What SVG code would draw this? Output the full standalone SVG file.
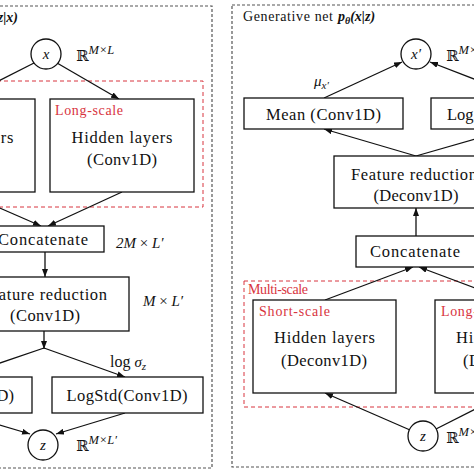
<svg xmlns="http://www.w3.org/2000/svg" width="474" height="474" viewBox="0 0 474 474">
<defs>
<marker id="ah" markerUnits="userSpaceOnUse" markerWidth="8" markerHeight="6" refX="8" refY="3" orient="auto">
<path d="M0,0 L8,3 L0,6 z" fill="#111"/>
</marker>
<style>
.panel{fill:none;stroke:#555;stroke-width:1.2;stroke-dasharray:3 2}
.ms{fill:none;stroke:#d8343e;stroke-width:1;stroke-dasharray:4 3}
.box{fill:#fff;stroke:#111;stroke-width:1.3}
.t{font-family:"Liberation Serif",serif;font-size:16.5px;fill:#111}
.c{text-anchor:middle}
.red{font-family:"Liberation Serif",serif;font-size:14px;fill:#d8343e}
.m{font-family:"Liberation Serif",serif;font-style:italic;font-size:15px;fill:#111}
.up{font-style:normal}
.bb{font-family:"DejaVu Serif",serif;font-size:15px;fill:#111}
.sup{font-family:"Liberation Serif",serif;font-style:italic;font-size:12.5px}
.ttl{font-family:"Liberation Serif",serif;font-size:14px;fill:#111}
.bi{font-family:"Liberation Serif",serif;font-style:italic;font-weight:bold}
#conn line{stroke:#111;stroke-width:1.3;marker-end:url(#ah)}
</style>
</defs>
<rect width="474" height="474" fill="#fff"/>

<!-- panels -->
<rect class="panel" x="-10" y="6" width="222" height="462"/>
<rect class="panel" x="232" y="5" width="260" height="462"/>
<text class="ttl bi" x="18" y="22" text-anchor="end">q<tspan font-size="10" dy="3">φ</tspan><tspan dy="-3">(z|x)</tspan></text>
<text class="ttl" x="243" y="21"><tspan textLength="90">Generative net</tspan><tspan class="bi" x="338">p</tspan><tspan class="bi" font-size="10" dy="3">θ</tspan><tspan class="bi" dy="-3">(x|z)</tspan></text>

<!-- multi-scale regions -->
<rect class="ms" x="-10" y="81" width="213" height="126"/>
<g id="ms-right">
<rect class="ms" x="244" y="281" width="240" height="126"/>
<text class="red" x="248" y="294" font-size="12.5" textLength="60">Multi-scale</text>
</g>

<!-- connectors -->
<g id="conn">
<line x1="34" y1="63" x2="-37" y2="99"/>
<line x1="57" y1="63" x2="119" y2="99"/>
<line x1="-37" y1="192" x2="41" y2="226"/>
<line x1="122" y1="192" x2="48" y2="226"/>
<line x1="45" y1="252" x2="45" y2="277"/>
<line x1="44" y1="331" x2="44" y2="349"/>
<line x1="44" y1="348" x2="125" y2="377"/>
<line x1="44" y1="348" x2="-41" y2="377"/>
<line x1="125" y1="413" x2="56" y2="434"/>
<line x1="-41" y1="413" x2="30" y2="434"/>

<line x1="410" y1="430" x2="325" y2="393"/>
<line x1="436" y1="429" x2="507" y2="393"/>
<line x1="325" y1="300" x2="413" y2="267"/>
<line x1="507" y1="300" x2="419" y2="267"/>
<line x1="416" y1="236" x2="416" y2="208"/>
<line x1="416" y1="156" x2="324" y2="129"/>
<line x1="416" y1="156" x2="510" y2="129"/>
<line x1="324" y1="98" x2="402" y2="62"/>
<line x1="523" y1="98" x2="430" y2="62"/>
</g>

<!-- left (inference) nodes -->
<g id="x-in">
<circle class="box" cx="46" cy="54" r="15"/>
<text class="m c" x="46" y="59" font-size="18">x</text>
<text class="bb" x="76" y="61">ℝ<tspan class="sup" dy="-7">M×L</tspan></text>
</g>
<g id="enc-short">
<rect class="box" x="-109" y="99" width="144" height="93"/>
<text class="t c" x="-37" y="143" textLength="101">Hidden layers</text>
</g>
<g id="enc-long">
<rect class="box" x="50" y="99" width="144" height="93"/>
<text class="red" x="55" y="115" textLength="68">Long-scale</text>
<text class="t c" x="122" y="143" textLength="101">Hidden layers</text>
<text class="t c" x="122" y="165" textLength="70">(Conv1D)</text>
</g>
<g id="enc-concat">
<rect class="box" x="-14" y="226" width="118" height="26"/>
<text class="t c" x="43" y="245" textLength="90">Concatenate</text>
<text class="m" x="116" y="248">2M <tspan class="up">×</tspan> L′</text>
</g>
<g id="enc-reduce">
<rect class="box" x="-41" y="277" width="170" height="54"/>
<text class="t c" x="44" y="300" textLength="126">Feature reduction</text>
<text class="t c" x="45" y="321" textLength="70">(Conv1D)</text>
<text class="m" x="143" y="306">M <tspan class="up">×</tspan> L′</text>
</g>
<g id="enc-mean">
<rect class="box" x="-115" y="377" width="147" height="36"/>
<text class="t" x="14" y="401" text-anchor="end">Mean (Conv1D)</text>
</g>
<g id="enc-logstd">
<rect class="box" x="52" y="377" width="151" height="36"/>
<text class="t c" x="127" y="401" textLength="121">LogStd(Conv1D)</text>
<text class="m" x="110" y="367"><tspan class="up" font-size="16">log </tspan>σ<tspan font-size="11" dy="3">z</tspan></text>
</g>
<g id="z-out">
<circle class="box" cx="43" cy="445" r="15"/>
<text class="m c" x="43" y="450" font-size="17">z</text>
<text class="bb" x="76" y="451">ℝ<tspan class="sup" dy="-7">M×L′</tspan></text>
</g>

<!-- right (generative) nodes -->
<g id="x-out">
<circle class="box" cx="416" cy="54" r="15"/>
<text class="m c" x="416" y="59" font-size="18">x′</text>
<text class="bb" x="446" y="61">ℝ<tspan class="sup" dy="-7">M×L</tspan></text>
</g>
<g id="dec-mean">
<rect class="box" x="244" y="98" width="159" height="31"/>
<text class="t c" x="323.5" y="120" textLength="115">Mean (Conv1D)</text>
<text class="m" x="314" y="86" font-size="16">μ<tspan font-size="11" dy="3">x′</tspan></text>
</g>
<g id="dec-logstd">
<rect class="box" x="431" y="98" width="159" height="31"/>
<text class="t" x="447" y="120">LogStd(Conv1D)</text>
</g>
<g id="dec-reduce">
<rect class="box" x="334" y="156" width="164" height="52"/>
<text class="t c" x="414" y="180" textLength="126">Feature reduction</text>
<text class="t c" x="416" y="201" textLength="85">(Deconv1D)</text>
</g>
<g id="dec-concat">
<rect class="box" x="356" y="236" width="120" height="31"/>
<text class="t c" x="415" y="257" textLength="90">Concatenate</text>
</g>
<g id="dec-short">
<rect class="box" x="253" y="300" width="143" height="93"/>
<text class="red" x="259" y="316" textLength="71">Short-scale</text>
<text class="t c" x="324.5" y="343" textLength="101">Hidden layers</text>
<text class="t c" x="324" y="366" textLength="86">(Deconv1D)</text>
</g>
<g id="dec-long">
<rect class="box" x="435" y="300" width="143" height="93"/>
<text class="red" x="441" y="316" textLength="68">Long-scale</text>
<text class="t c" x="506.5" y="343" textLength="101">Hidden layers</text>
<text class="t c" x="506" y="366" textLength="86">(Deconv1D)</text>
</g>
<g id="z-in">
<circle class="box" cx="423" cy="436" r="15"/>
<text class="m c" x="423" y="441" font-size="17">z</text>
<text class="bb" x="446" y="443">ℝ<tspan class="sup" dy="-7">M×L′</tspan></text>
</g>
</svg>
